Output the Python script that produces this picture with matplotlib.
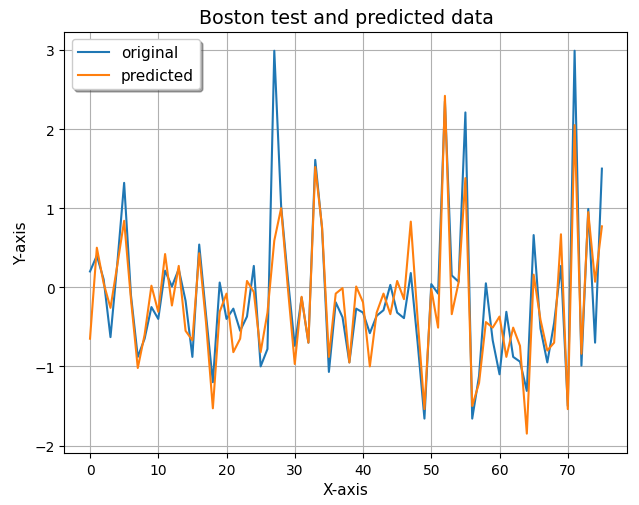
import matplotlib
matplotlib.use("Agg")
import matplotlib.pyplot as plt
import numpy as np

original = [0.20, 0.40, 0.10, -0.63, 0.30, 1.32, -0.10, -0.88, -0.65, -0.25,
            -0.40, 0.21, 0.01, 0.23, -0.17, -0.88, 0.54, -0.35, -1.20, 0.06,
            -0.40, -0.27, -0.55, -0.37, 0.27, -1.00, -0.78, 2.99, 1.03, 0.10,
            -0.74, -0.13, -0.70, 1.61, 0.74, -1.07, -0.19, -0.38, -0.95, -0.27,
            -0.32, -0.58, -0.36, -0.29, 0.03, -0.32, -0.39, 0.18, -0.70, -1.66,
            0.04, -0.08, 2.35, 0.15, 0.07, 2.21, -1.66, -1.12, 0.05, -0.67,
            -1.10, -0.31, -0.88, -0.94, -1.31, 0.66, -0.52, -0.95, -0.45, 0.27,
            -1.50, 2.99, -0.99, 0.99, -0.70, 1.50]
predicted = [-0.65, 0.50, 0.05, -0.26, 0.28, 0.84, -0.15, -1.02, -0.60, 0.02,
             -0.31, 0.42, -0.23, 0.27, -0.55, -0.67, 0.43, -0.45, -1.53, -0.31,
             -0.08, -0.82, -0.65, 0.08, -0.06, -0.82, -0.32, 0.59, 1.00, -0.02,
             -0.97, -0.12, -0.70, 1.52, 0.76, -0.88, -0.08, -0.01, -0.95, 0.01,
             -0.19, -1.00, -0.32, -0.08, -0.34, 0.08, -0.15, 0.83, -0.40, -1.54,
             -0.02, -0.51, 2.42, -0.34, 0.06, 1.38, -1.50, -1.21, -0.44, -0.51,
             -0.37, -0.88, -0.51, -0.74, -1.85, 0.16, -0.41, -0.80, -0.70, 0.67,
             -1.54, 2.05, -0.84, 0.95, 0.07, 0.77]
x = np.arange(len(original))

fig, ax = plt.subplots(figsize=(6.39, 5.06), dpi=100)
fig.subplots_adjust(left=0.1008, right=0.982, top=0.9356, bottom=0.1032)
ax.plot(x, original, label="original")
ax.plot(x, predicted, label="predicted")
ax.set_title("Boston test and predicted data", fontsize=13.7)
ax.set_xlabel("X-axis", fontsize=11)
ax.set_ylabel("Y-axis", fontsize=11)
ax.legend(loc="upper left", fancybox=True, shadow=True, fontsize=11)
ax.grid(True)
fig.savefig("out.png", dpi=100)
